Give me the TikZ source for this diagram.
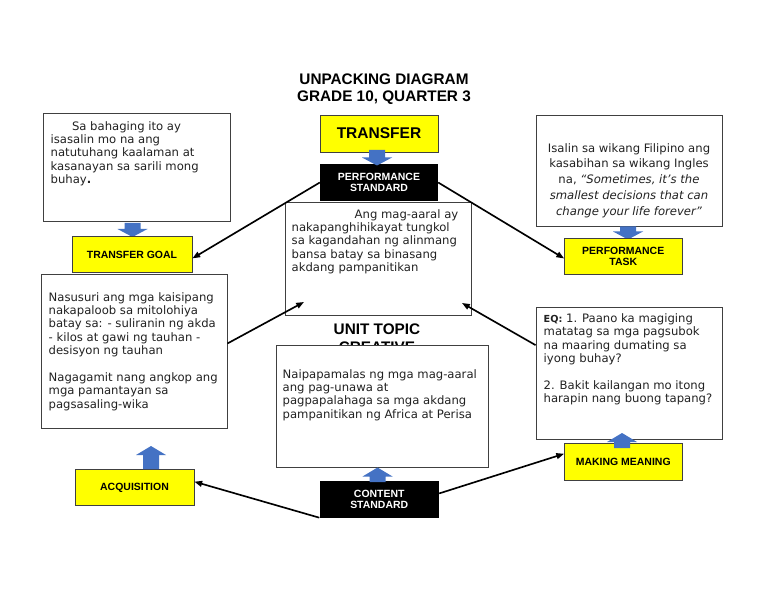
\documentclass[tikz,border=0pt]{standalone}
\usepackage{fontspec}
\setmainfont{DejaVu Sans}
\newfontfamily\lsans{Liberation Sans}
\usetikzlibrary{fit,arrows.meta}
\newdimen\pu \pu=1.03125pt
\definecolor{boxline}{HTML}{404040}
\definecolor{txtgray}{HTML}{222222}
\definecolor{arrblue}{HTML}{4472C4}
\definecolor{yel}{HTML}{FFFF00}
\newcommand\BlkDown[3]{%
  \fill[arrblue] (#1-8,#2) -- (#1+8,#2) -- (#1+8,#3-8) -- (#1+15,#3-8) -- (#1,#3) -- (#1-15,#3-8) -- (#1-8,#3-8) -- cycle;}
\newcommand\BlkUp[3]{%
  \fill[arrblue] (#1-8,#3) -- (#1+8,#3) -- (#1+8,#2+9) -- (#1+15,#2+9) -- (#1,#2) -- (#1-15,#2+9) -- (#1-8,#2+9) -- cycle;}
\tikzset{
  wbox/.style={draw=boxline, line width=0.9pt, fill=white, inner sep=0pt},
  ybox/.style={draw=boxline, line width=0.8pt, fill=yel, inner sep=0pt, align=center,
    font=\lsans\bfseries\fontsize{10.8}{12}\selectfont},
  kbox/.style={fill=black, inner sep=0pt, align=center, text=white,
    font=\lsans\bfseries\fontsize{10.8}{12}\selectfont},
  sz/.style 2 args={minimum width=#1\pu, minimum height=#2\pu},
  body/.style={font=\fontsize{12}{13.8}\selectfont, text=txtgray, inner sep=0pt, align=left, anchor=north west},
  heading/.style={font=\lsans\bfseries\fontsize{15.8}{17.5}\selectfont, inner sep=0pt, align=center},
  conn/.style={-{Triangle[length=8pt,width=6pt]}, line width=1.7pt, black},
}
\begin{document}
\begin{tikzpicture}[x=\pu,y=-\pu]
\useasboundingbox[fill=white] (0,0) rectangle (768,594);
% title
\node[heading, anchor=north] (title) at (384,74) {UNPACKING DIAGRAM\\GRADE 10, QUARTER 3};
% top centre
\node[ybox, sz={118}{37}, font=\lsans\bfseries\fontsize{16}{18}\selectfont] (transfer) at (379,133.5) {TRANSFER};
\node[kbox, sz={118}{37}] (ps) at (379,182.5) {PERFORMANCE\\STANDARD};
\BlkDown{377}{150}{165.5}
\node[wbox, fit={(285,202.5) (471,315)}] (cbox) {};
\node[body] (cboxtxt) at (291.5,209) {\hspace*{65pt}Ang mag-aaral ay\\nakapanghihikayat tungkol\\sa kagandahan ng alinmang\\bansa batay sa binasang\\akdang pampanitikan};
% left column
\node[wbox, fit={(43.5,113.5) (230,221.5)}] (tlbox) {};
\node[body] (tltxt) at (50.5,121) {\hspace*{22pt}Sa bahaging ito ay\\isasalin mo na ang\\natutuhang kaalaman at\\kasanayan sa sarili mong\\buhay\textbf{.}};
\BlkDown{132.5}{223}{237}
\node[ybox, sz={120}{36}] (tg) at (132,254.5) {TRANSFER GOAL};
\node[wbox, fit={(41,274.5) (227,428)}] (lmbox) {};
\node[body] (lmtxt) at (48.5,292) {Nasusuri ang mga kaisipang\\nakapaloob sa mitolohiya\\batay sa: - suliranin ng akda\\- kilos at gawi ng tauhan -\\desisyon ng tauhan\\[13.8pt]Nagagamit nang angkop ang\\mga pamantayan sa\\pagsasaling-wika};
\node[ybox, sz={119}{36}] (acq) at (134.5,487.5) {ACQUISITION};
\BlkUp{151}{446}{469}
% right column
\node[wbox, fit={(536,115.5) (722,226.5)}] (rtbox) {};
\node[body, anchor=north, align=center, font=\fontsize{12}{16.3}\selectfont] (rttxt) at (629,143) {Isalin sa wikang Filipino ang\\kasabihan sa wikang Ingles\\na, {\itshape “Sometimes, it’s the}\\{\itshape smallest decisions that can}\\{\itshape change your life forever”}};
\BlkDown{628}{226.5}{239.5}
\node[ybox, sz={117.5}{35.5}] (pt) at (623.25,256.5) {PERFORMANCE\\TASK};
\node[wbox, fit={(536,307.5) (722,439)}] (eqbox) {};
\node[body] (eqtxt) at (543.5,313.5) {{\bfseries\fontsize{10}{13.8}\selectfont EQ:} 1. Paano ka magiging\\matatag sa mga pagsubok\\na maaring dumating sa\\iyong buhay?\\[13.8pt]2. Bakit kailangan mo itong\\harapin nang buong tapang?};
\node[ybox, sz={117.5}{36.5}] (mm) at (623.25,462) {MAKING MEANING};
\BlkUp{622}{433}{448}
% centre bottom
\node[heading, anchor=base] (unit) at (377,334.3) {UNIT TOPIC};
\node[heading, anchor=base] (creative) at (377,352) {CREATIVE};
\node[wbox, fit={(276,345) (488,467.5)}] (ctbox) {};
\node[body] (cttxt) at (282.5,369) {Naipapamalas ng mga mag-aaral\\ang pag-unawa at\\pagpapalahaga sa mga akdang\\pampanitikan ng Africa at Perisa};
\node[kbox, sz={119.5}{36.5}] (cs) at (379.25,499.25) {CONTENT\\STANDARD};
\BlkUp{377.5}{467.5}{482}
% connectors
\coordinate (cbin1) at (304,302);
\coordinate (cbin2) at (462,303);
\draw[conn] (ps.west) -- ([yshift=-4pt]tg.east);
\draw[conn] (ps.east) -- ([yshift=-2pt]pt.west);
\draw[conn] ([yshift=8pt]lmbox.east) -- (cbin1);
\draw[conn] ([yshift=29pt]eqbox.west) -- (cbin2);
\draw[conn] (cs.south west) -- ([yshift=6pt]acq.east);
\draw[conn] ([yshift=6pt]cs.east) -- ([yshift=8.5pt]mm.west);
\end{tikzpicture}
\end{document}
